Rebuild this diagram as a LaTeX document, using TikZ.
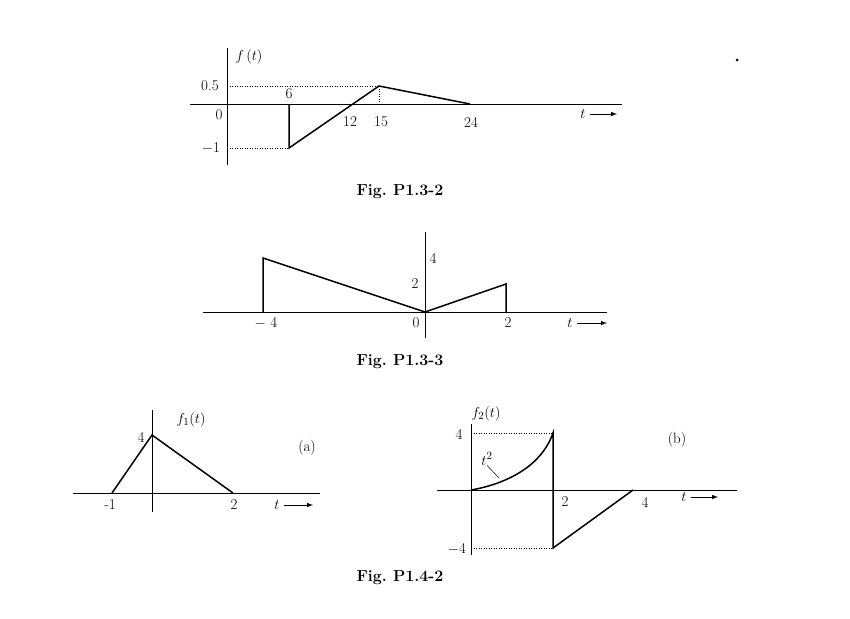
\documentclass[tikz,border=0pt]{standalone}
\begin{document}
\begin{tikzpicture}[x=1pt,y=-1pt,
  ax/.style={line width=0.8pt},
  sig/.style={line width=1.5pt},
  dot/.style={dotted,line width=0.5pt},
  lbl/.style={font=\fontsize{15}{17}\selectfont,inner sep=0pt},
  figcap/.style={font=\fontsize{16}{18}\selectfont\bfseries,inner sep=0pt},
  tarr/.style={line width=1pt,-latex}]
\useasboundingbox (0,0) rectangle (850,618);
% Fig 1
\draw[ax] (227,48) -- (227,165);
\draw[ax] (190,104) -- (622,104);
\draw[dot] (227,86) -- (379,86) (379,86) -- (379,104) (227,148) -- (289,148);
\draw[sig] (289,104) -- (289,148) -- (379,86) -- (470,104);
\node[lbl] (f) at (249,57) {$f\,(t)$};
\node[lbl] (a1) at (210,86) {0.5};
\node[lbl] (a2) at (219,115) {0};
\node[lbl] (a3) at (211,148) {$-$1};
\node[lbl] (a4) at (289,94) {6};
\node[lbl] (a5) at (350,122) {12};
\node[lbl] (a6) at (381,122) {15};
\node[lbl] (a7) at (471,122) {24};
\node[lbl] (t1) at (583,114) {$t$};
\coordinate (t1e) at (617,114);
\draw[tarr] (t1.east)+(4,0) -- (t1e);
\node[figcap] (c1) at (400,192) {Fig.\ P1.3-2};
\fill (737,60) circle (1.5);
% Fig 2
\draw[ax] (425,232) -- (425,338);
\draw[ax] (203,312) -- (607,312);
\draw[sig] (263,312) -- (263,258) -- (425,312) -- (506,284) -- (506,312);
\node[lbl] (b1) at (433,258) {4};
\node[lbl] (b2) at (415,284) {2};
\node[lbl] (b3) at (266,323) {$-$ 4};
\node[lbl] (b4) at (416,323) {0};
\node[lbl] (b5) at (508,323) {2};
\node[lbl] (t2) at (570,323) {$t$};
\coordinate (t2e) at (607,323);
\draw[tarr] (t2.east)+(4,0) -- (t2e);
\node[figcap] (c2) at (400,362) {Fig.\ P1.3-3};
% Fig 3a
\draw[ax] (152,410) -- (152,512);
\draw[ax] (73,493) -- (320,493);
\draw[sig] (112,493) -- (152,435) -- (233,493);
\node[lbl] (d0) at (191,420) {$f_1(t)$};
\node[lbl] (d1) at (141,437) {4};
\node[lbl] (d2) at (110,505) {-1};
\node[lbl] (d3) at (234,505) {2};
\node[lbl] (d4) at (307,448) {(a)};
\node[lbl] (t3) at (277,505) {$t$};
\coordinate (t3e) at (313,505);
\draw[tarr] (t3.east)+(4,0) -- (t3e);
% Fig 3b
\draw[ax] (471,424) -- (471,555);
\draw[ax] (437,490) -- (737,490);
\draw[dot] (471,433) -- (553,433) (471,548) -- (553,548);
\draw[sig] (471,490) .. controls (500,485) and (540,470) .. (553,433) -- (553,548) -- (633,490);
\node[lbl] (e0) at (486,414) {$f_2(t)$};
\node[lbl] (e1) at (459,434) {4};
\node[lbl] (e2) at (457,549) {$-$4};
\node[lbl] (e3) at (565,502) {2};
\node[lbl] (e4) at (645,502) {4};
\node[lbl] (e5) at (677,440) {(b)};
\node[lbl] (e6) at (487,459) {$t^2$};
\coordinate (e6e) at (499,478);
\draw[line width=0.5pt] (e6.south) -- (e6e);
\node[lbl] (t4) at (684,497) {$t$};
\coordinate (t4e) at (718,497);
\draw[tarr] (t4.east)+(4,0) -- (t4e);
\node[figcap] (c3) at (400,578) {Fig.\ P1.4-2};
\end{tikzpicture}
\end{document}
